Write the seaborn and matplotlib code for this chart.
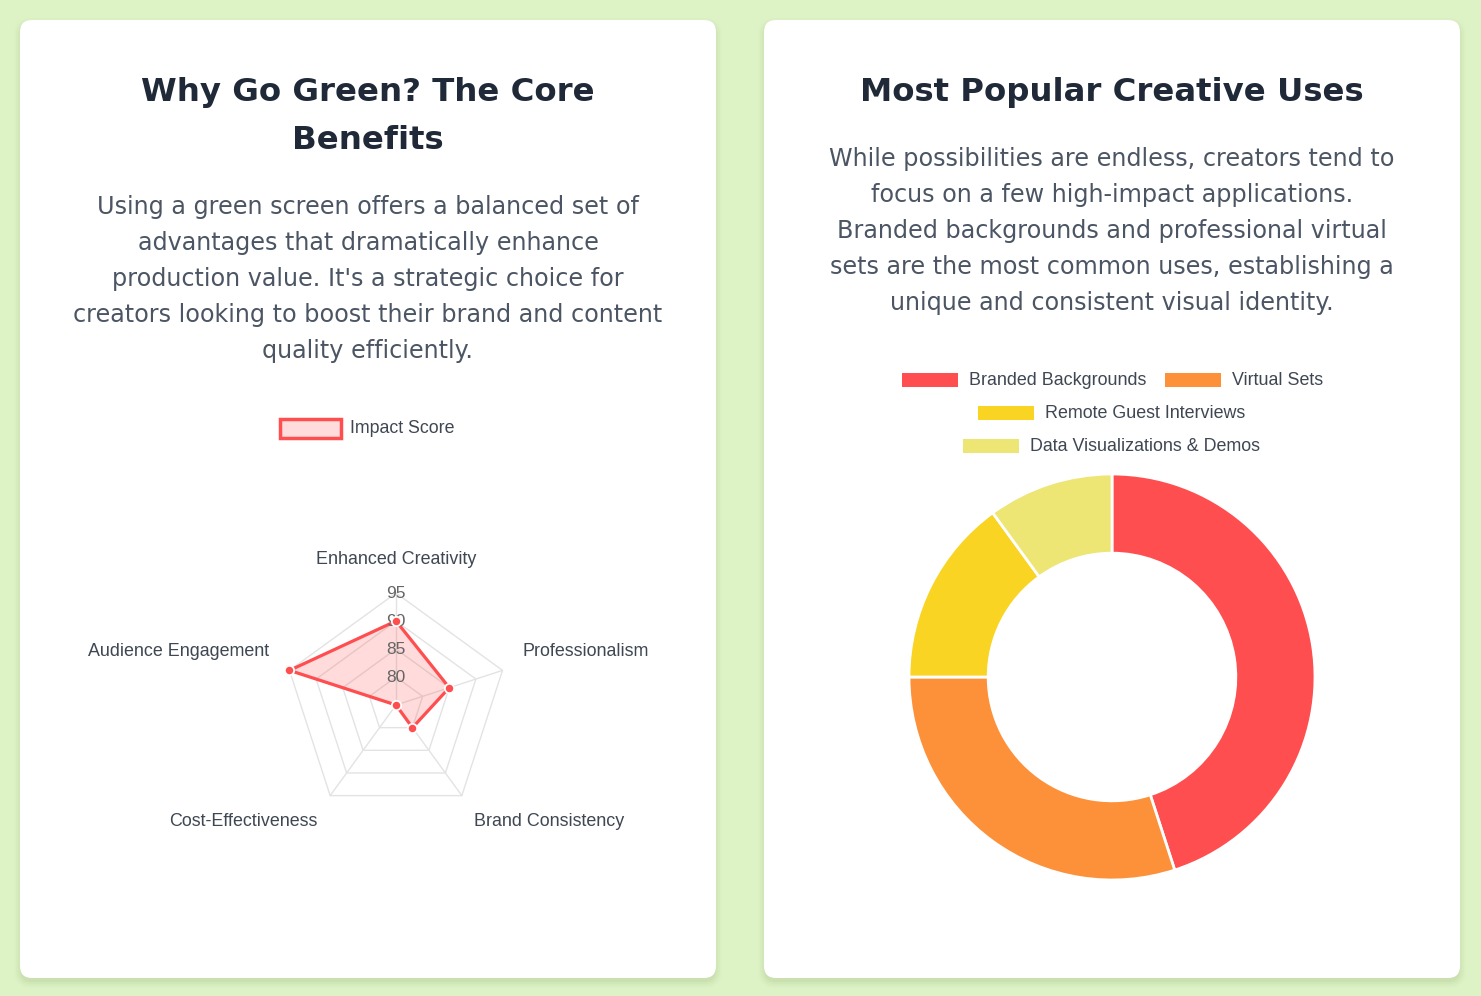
import numpy as np
import matplotlib.pyplot as plt
import seaborn as sns
from matplotlib.patches import FancyBboxPatch, Rectangle

# radar data
benefits = ["Enhanced Creativity", "Professionalism", "Brand Consistency",
            "Cost-Effectiveness", "Audience Engagement"]
impact_scores = [90, 85, 80, 75, 95]
radar_ticks = [80, 85, 90, 95]
radar_min, radar_max = 75, 95

# donut data
uses = ["Branded Backgrounds", "Virtual Sets", "Remote Guest Interviews",
        "Data Visualizations & Demos"]
use_share = [45, 30, 15, 10]
use_colors = ["#FF4E50", "#FC913A", "#F9D423", "#EDE574"]

left_title = ["Why Go Green? The Core", "Benefits"]
left_body = ["Using a green screen offers a balanced set of",
             "advantages that dramatically enhance",
             "production value. It's a strategic choice for",
             "creators looking to boost their brand and content",
             "quality efficiently."]
right_title = ["Most Popular Creative Uses"]
right_body = ["While possibilities are endless, creators tend to",
              "focus on a few high-impact applications.",
              "Branded backgrounds and professional virtual",
              "sets are the most common uses, establishing a",
              "unique and consistent visual identity."]

sns.set_theme(style="white")
plt.rcParams["font.family"] = ["DejaVu Sans"]

W, H = 1481, 996
TITLE_C = "#1F2937"
BODY_C = "#4B5563"
LABEL_C = "#3F4753"
RED = use_colors[0]

fig = plt.figure(figsize=(W / 100, H / 100), dpi=100)
fig.patch.set_facecolor("#DEF3C5")

bg = fig.add_axes([0, 0, 1, 1])
bg.set_xlim(0, W)
bg.set_ylim(H, 0)
bg.axis("off")


def px_rect(x0, y0, w, h):
    return [x0 / W, 1 - (y0 + h) / H, w / W, h / H]


# cards with a soft shadow
for cx in [20, 764]:
    for i, a in enumerate([0.05, 0.04, 0.03, 0.02]):
        sh = FancyBboxPatch((cx - i * 2, 24 - i * 2), 696 + i * 4, 958 + i * 4,
                            boxstyle="round,pad=0,rounding_size=%d" % (12 + i * 2),
                            fc="#557733", ec="none", alpha=a, zorder=0)
        bg.add_patch(sh)
    card = FancyBboxPatch((cx, 20), 696, 958, boxstyle="round,pad=0,rounding_size=12",
                          fc="white", ec="none", zorder=1)
    bg.add_patch(card)

# texts
for i, line in enumerate(left_title):
    bg.text(368, 92 + i * 48, line, ha="center", va="center", fontsize=23.3,
            fontweight="bold", color=TITLE_C, zorder=3)
for i, line in enumerate(left_body):
    bg.text(368, 207 + i * 36, line, ha="center", va="center", fontsize=17.2,
            color=BODY_C, zorder=3)
for i, line in enumerate(right_title):
    bg.text(1112, 92 + i * 48, line, ha="center", va="center", fontsize=23.3,
            fontweight="bold", color=TITLE_C, zorder=3)
for i, line in enumerate(right_body):
    bg.text(1112, 159 + i * 36, line, ha="center", va="center", fontsize=17.2,
            color=BODY_C, zorder=3)

# radar legend
bg.add_patch(Rectangle((280, 419), 61, 19, fc=RED, alpha=0.2, ec="none", zorder=3))
bg.add_patch(Rectangle((280, 419), 61, 19, fc="none", ec=RED, lw=2.5, zorder=3))
bg.text(350, 428, "Impact Score", ha="left", va="center", fontsize=12.8,
        family="Liberation Sans", color=LABEL_C, zorder=3)

# donut legend
legend_rows = [[0, 1], [2], [3]]
row_x = [902, 978, 963]
for r, idxs in enumerate(legend_rows):
    x = row_x[r]
    y = 380 + r * 33
    for k in idxs:
        bg.add_patch(Rectangle((x, y - 7), 56, 14, fc=use_colors[k], ec="none", zorder=3))
        bg.text(x + 67, y, uses[k], ha="left", va="center", fontsize=12.9,
                family="Liberation Sans", color=LABEL_C, zorder=3)
        x = 1165

# radar chart
half = 170
ax = fig.add_axes(px_rect(396 - half, 705 - half, 2 * half, 2 * half))
lim = half / 112
ax.set_xlim(-lim, lim)
ax.set_ylim(-lim, lim)
ax.set_aspect("equal")
ax.axis("off")

ang = np.deg2rad(90 - 72 * np.arange(len(benefits)))
for t in radar_ticks:
    rr = (t - radar_min) / (radar_max - radar_min)
    gx = np.append(rr * np.cos(ang), rr * np.cos(ang[0]))
    gy = np.append(rr * np.sin(ang), rr * np.sin(ang[0]))
    ax.plot(gx, gy, color="#E3E3E3", lw=1, zorder=1)
for a in ang:
    ax.plot([0, np.cos(a)], [0, np.sin(a)], color="#E3E3E3", lw=1, zorder=1)

rv = (np.array(impact_scores) - radar_min) / (radar_max - radar_min)
xs = rv * np.cos(ang)
ys = rv * np.sin(ang)
ax.fill(xs, ys, color=RED, alpha=0.2, lw=0, zorder=2)
ax.plot(np.append(xs, xs[0]), np.append(ys, ys[0]), color=RED, lw=2.3, zorder=3)

for t in radar_ticks:
    rr = (t - radar_min) / (radar_max - radar_min)
    ax.text(0, rr, str(t), ha="center", va="center", fontsize=12.5,
            family="Liberation Sans", color="#666666", zorder=4)

sns.scatterplot(x=xs, y=ys, ax=ax, color=RED, s=45, edgecolor="white",
                linewidth=1.3, zorder=5, legend=False)

label_pos = [(0, 1.30, "center"), (1.13, 0.48, "left"), (0.70, -1.04, "left"),
             (-0.70, -1.04, "right"), (-1.13, 0.48, "right")]
for name, (lx, ly, ha) in zip(benefits, label_pos):
    ax.text(lx, ly, name, ha=ha, va="center", fontsize=12.9,
            family="Liberation Sans", color=LABEL_C, clip_on=False)

# donut chart
rad = 203
ax2 = fig.add_axes(px_rect(1112 - rad - 4, 677 - rad - 4, 2 * rad + 8, 2 * rad + 8))
ax2.pie(use_share, colors=sns.color_palette(use_colors), startangle=90,
        counterclock=False, radius=1,
        wedgeprops=dict(width=0.39, edgecolor="white", linewidth=2))
ax2.set_xlim(-(rad + 4) / rad, (rad + 4) / rad)
ax2.set_ylim(-(rad + 4) / rad, (rad + 4) / rad)
ax2.set_aspect("equal")
ax2.axis("off")

fig.savefig("out.png", dpi=100, facecolor=fig.get_facecolor())
